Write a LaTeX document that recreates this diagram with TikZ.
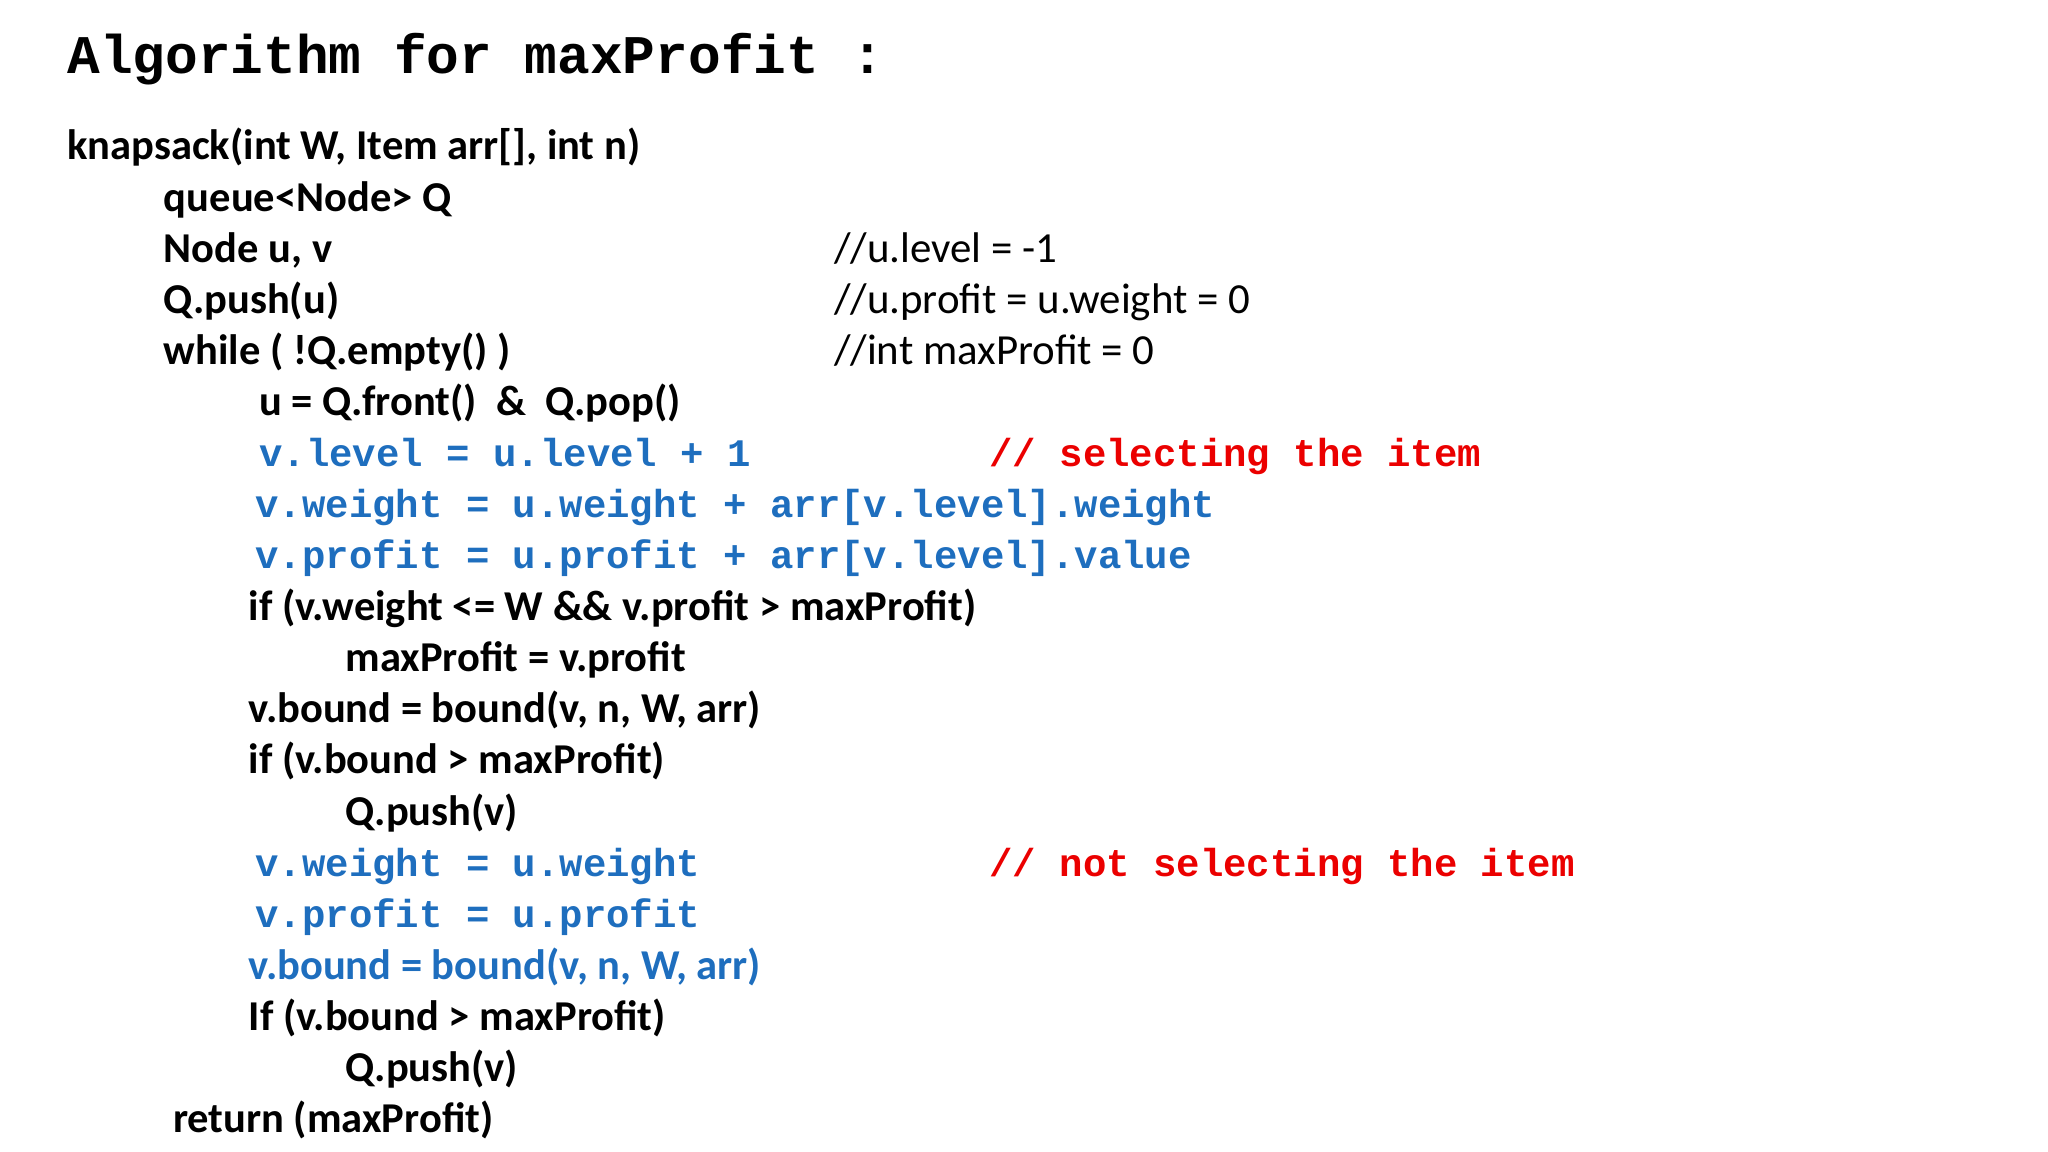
\documentclass[tikz,border=0pt]{standalone}
\usepackage{fontspec}
\setmainfont{Carlito}
\newfontfamily\codefont{Liberation Mono}
\definecolor{codeblue}{RGB}{30,110,190}
\definecolor{codered}{RGB}{235,0,0}
\tikzset{
 txt/.style={anchor=base west,inner sep=0pt,font=\fontsize{12.1}{14}\selectfont\bfseries},
 cmt/.style={anchor=base west,inner sep=0pt,font=\fontsize{12.2}{14}\selectfont},
 blu/.style={anchor=base west,inner sep=0pt,text=codeblue,font=\codefont\fontsize{11.1}{13}\selectfont\bfseries},
 rdc/.style={anchor=base west,inner sep=0pt,text=codered,font=\codefont\fontsize{11.1}{13}\selectfont\bfseries},
 ttl/.style={anchor=base west,inner sep=0pt,font=\codefont\fontsize{15.5}{18}\selectfont\bfseries}
}
\begin{document}
\begin{tikzpicture}[x=0.01306cm,y=-0.01306cm]
\useasboundingbox (0,0) rectangle (1568,882);
\node[ttl] (title) at (51,56) {Algorithm for maxProfit :};
\node[txt] (l1) at (51,122) {knapsack(int W, Item arr[], int n)};
\node[txt] (l2) at (125,162) {queue<Node> Q};
\node[txt] (l3) at (125,201) {Node u, v};
\node[txt] (l4) at (125,240) {Q.push(u)};
\node[txt] (l5) at (125,279) {while ( !Q.empty() )};
\node[cmt] (c1) at (638,201) {//u.level = -1};
\node[cmt] (c2) at (638,240) {//u.profit = u.weight = 0};
\node[cmt] (c3) at (638,279) {//int maxProfit = 0};
\node[txt] (l6) at (198,318) {u = Q.front() \ \& \ Q.pop()};
\node[blu] (l7) at (198,357) {v.level = u.level + 1};
\node[rdc] (r1) at (757,357) {// selecting the item};
\node[blu] (l8) at (195,396) {v.weight = u.weight + arr[v.level].weight};
\node[blu] (l9) at (195,435) {v.profit = u.profit + arr[v.level].value};
\node[txt] (l10) at (190,475) {if (v.weight <= W \&\& v.profit > maxProfit)};
\node[txt] (l11) at (264,514) {maxProfit = v.profit};
\node[txt] (l12) at (190,553) {v.bound = bound(v, n, W, arr)};
\node[txt] (l13) at (190,592) {if (v.bound > maxProfit)};
\node[txt] (l14) at (264,632) {Q.push(v)};
\node[blu] (l15) at (195,671) {v.weight = u.weight};
\node[rdc] (r2) at (757,671) {// not selecting the item};
\node[blu] (l16) at (195,710) {v.profit = u.profit};
\node[txt,text=codeblue] (l17) at (190,750) {v.bound = bound(v, n, W, arr)};
\node[txt] (l18) at (190,789) {If (v.bound > maxProfit)};
\node[txt] (l19) at (264,828) {Q.push(v)};
\node[txt] (l20) at (132,867) {return (maxProfit)};
\end{tikzpicture}
\end{document}
